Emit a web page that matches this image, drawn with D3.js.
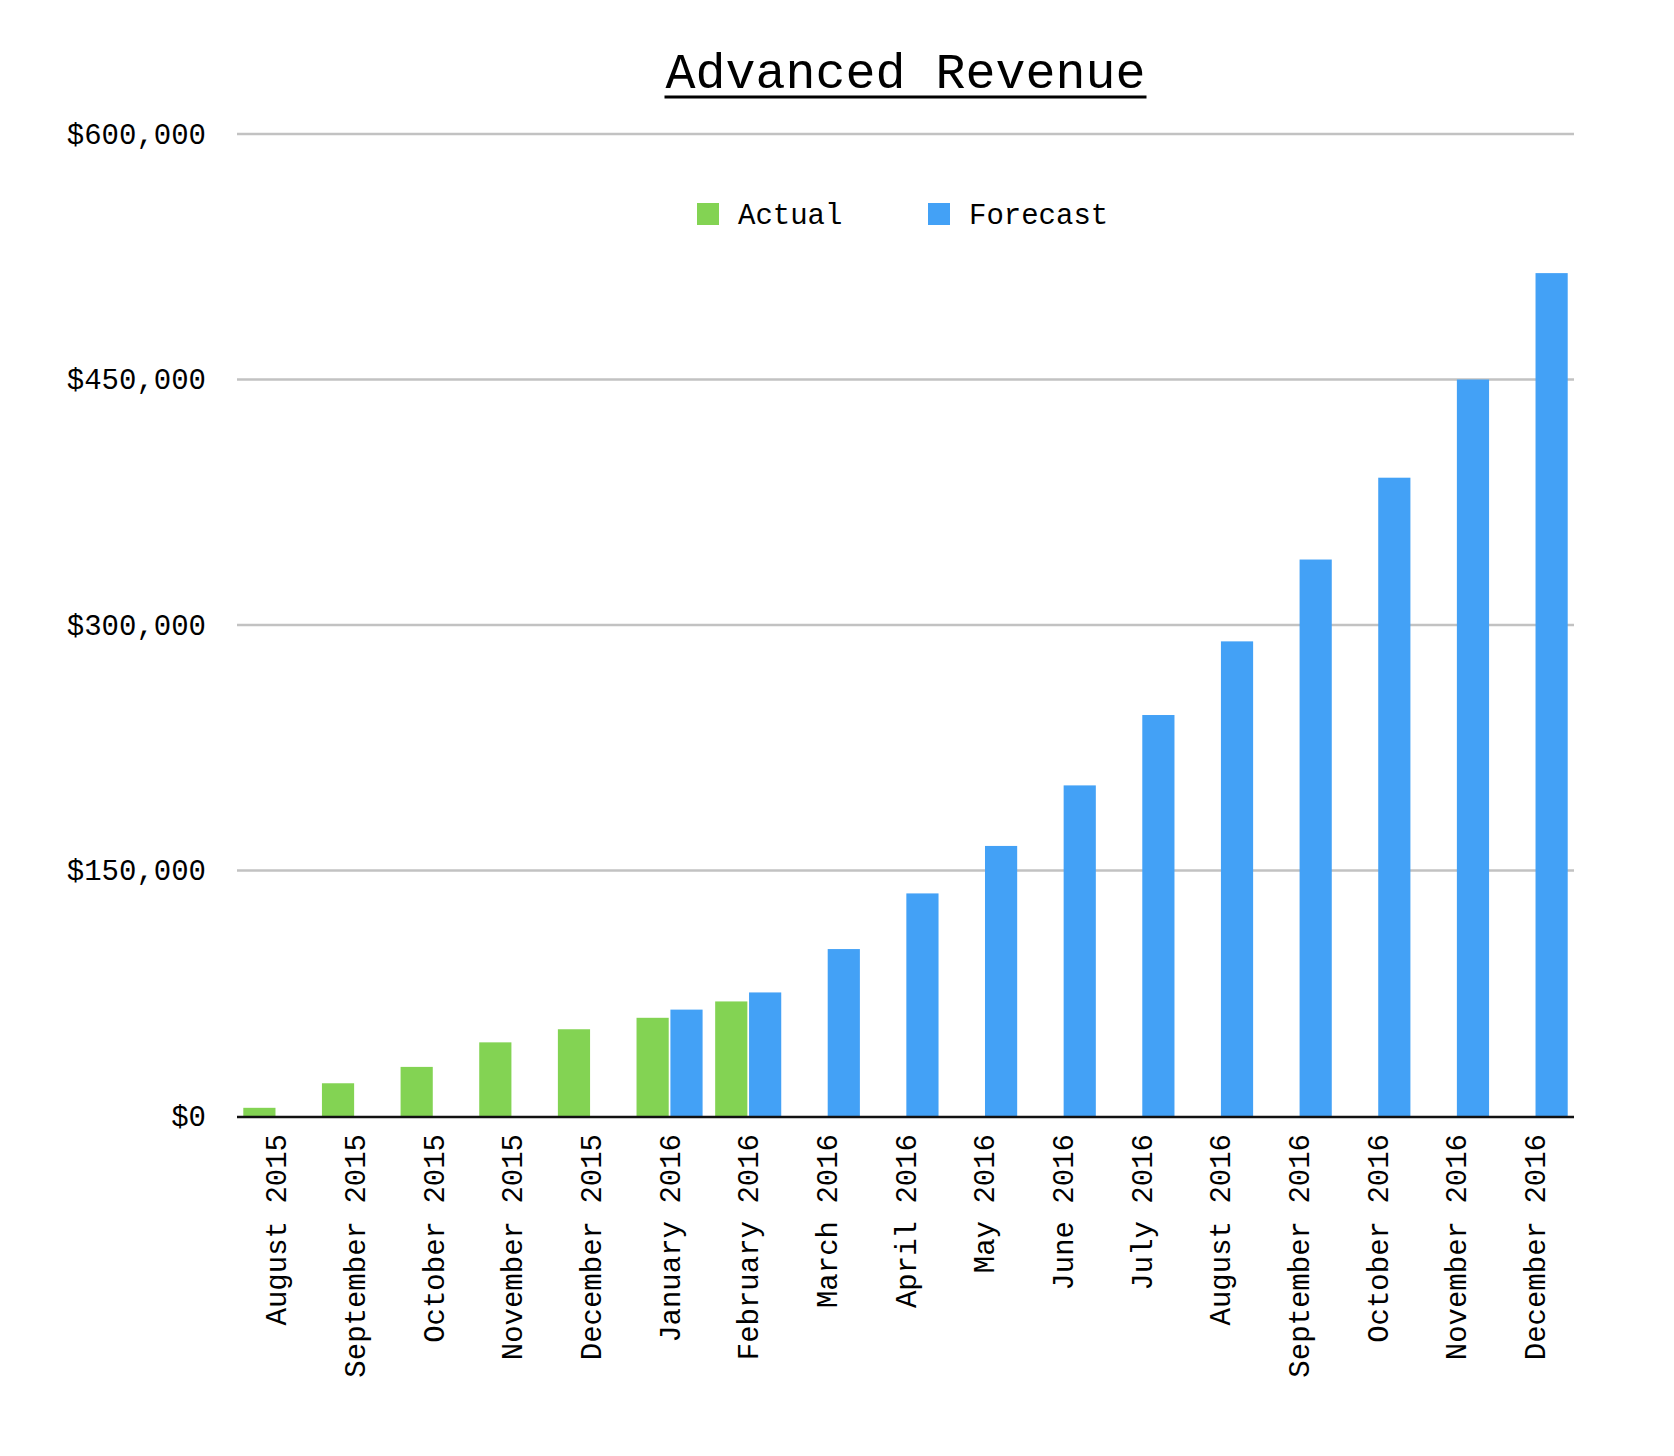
<!DOCTYPE html>
<html>
<head>
<meta charset="utf-8">
<script src="https://cdn.jsdelivr.net/npm/d3@7"></script>
<style>
  html, body { margin: 0; padding: 0; background: #fff; }
  svg { display: block; }
  text { font-family: "Courier New", "Liberation Mono", monospace; fill: #000; }
</style>
</head>
<body>
<svg id="chart" width="1674" height="1456"></svg>
<script>
const categories = ["August 2015","September 2015","October 2015","November 2015","December 2015","January 2016","February 2016","March 2016","April 2016","May 2016","June 2016","July 2016","August 2016","September 2016","October 2016","November 2016","December 2016"];
const seriesNames = ["Actual","Forecast"];
const actual   = [5000, 20000, 30000, 45000, 53000, 60000, 70000, null, null, null, null, null, null, null, null, null, null];
const forecast = [null, null, null, null, null, 65000, 75500, 102000, 136000, 165000, 202000, 245000, 290000, 340000, 390000, 450000, 515000];
const yTicks = [0, 150000, 300000, 450000, 600000];
const yTickLabels = ["$0", "$150,000", "$300,000", "$450,000", "$600,000"];
const colors = ["#83d353", "#43a1f6"];
const chartTitle = "Advanced Revenue";

(function () {
const svg = d3.select("#chart");
const pL = 237, pR = 1574, pT = 134, pB = 1116;

const x0 = d3.scaleBand().domain(categories).range([pL, pR]).paddingInner(0.16).paddingOuter(0.08);
const x1 = d3.scaleBand().domain(seriesNames).range([0, x0.bandwidth()]).paddingInner(0.05);
const y = d3.scaleLinear().domain([0, 600000]).range([pB, pT]);

// gridlines
svg.append("g").selectAll("line").data(yTicks.filter(d => d > 0)).join("line")
  .attr("x1", pL).attr("x2", pR)
  .attr("y1", d => y(d)).attr("y2", d => y(d))
  .attr("stroke", "#c2c2c2").attr("stroke-width", 2.5);

// y axis labels
const yAxis = d3.axisLeft(y).tickValues(yTicks).tickSize(0).tickPadding(0)
  .tickFormat((d, i) => yTickLabels[i]);
const yg = svg.append("g").attr("transform", `translate(${pL - 31},0)`).call(yAxis);
yg.select(".domain").remove();
yg.selectAll("text").style("font-size", "29px").attr("dy", "0.32em")
  .style("font-family", '"Courier New", "Liberation Mono", monospace').attr("fill", "#000");

// bars
const rows = categories.map((c, i) => ({ c, vals: [actual[i], forecast[i]] }));
const groups = svg.append("g").selectAll("g").data(rows).join("g")
  .attr("transform", d => `translate(${x0(d.c)},0)`);
groups.selectAll("rect")
  .data(d => d.vals.map((v, k) => ({ k, v })).filter(e => e.v != null))
  .join("rect")
  .attr("x", e => x1(seriesNames[e.k]))
  .attr("width", x1.bandwidth())
  .attr("y", e => y(e.v))
  .attr("height", e => y(0) - y(e.v))
  .attr("fill", e => colors[e.k]);

// baseline
svg.append("line").attr("x1", pL).attr("x2", pR)
  .attr("y1", y(0) + 1).attr("y2", y(0) + 1)
  .attr("stroke", "#111").attr("stroke-width", 2.5);

// x axis labels
const xAxis = d3.axisBottom(x0).tickSize(0).tickPadding(0);
const xg = svg.append("g").attr("transform", `translate(0,${pB})`).call(xAxis);
xg.select(".domain").remove();
xg.selectAll("text")
  .style("font-size", "29px")
  .style("font-family", '"Courier New", "Liberation Mono", monospace')
  .attr("fill", "#000")
  .attr("text-anchor", "end")
  .attr("transform", "rotate(-90)")
  .attr("x", -18).attr("y", 0).attr("dy", "0.35em");

// title
const tcx = (pL + pR) / 2;
svg.append("text").attr("x", tcx).attr("y", 88).attr("text-anchor", "middle")
  .style("font-size", "50px").text(chartTitle);
svg.append("line").attr("x1", tcx - 241).attr("x2", tcx + 241)
  .attr("y1", 97).attr("y2", 97).attr("stroke", "#000").attr("stroke-width", 3);

// legend
const legend = [{ name: "Actual", x: 697 }, { name: "Forecast", x: 928 }];
const lg = svg.append("g").selectAll("g").data(legend).join("g")
  .attr("transform", d => `translate(${d.x},203)`);
lg.append("rect").attr("width", 22).attr("height", 22).attr("fill", (d, i) => colors[i]);
lg.append("text").attr("x", 41).attr("y", 11).attr("dy", "0.35em")
  .style("font-size", "29px").text(d => d.name);
})();
</script>
</body>
</html>
